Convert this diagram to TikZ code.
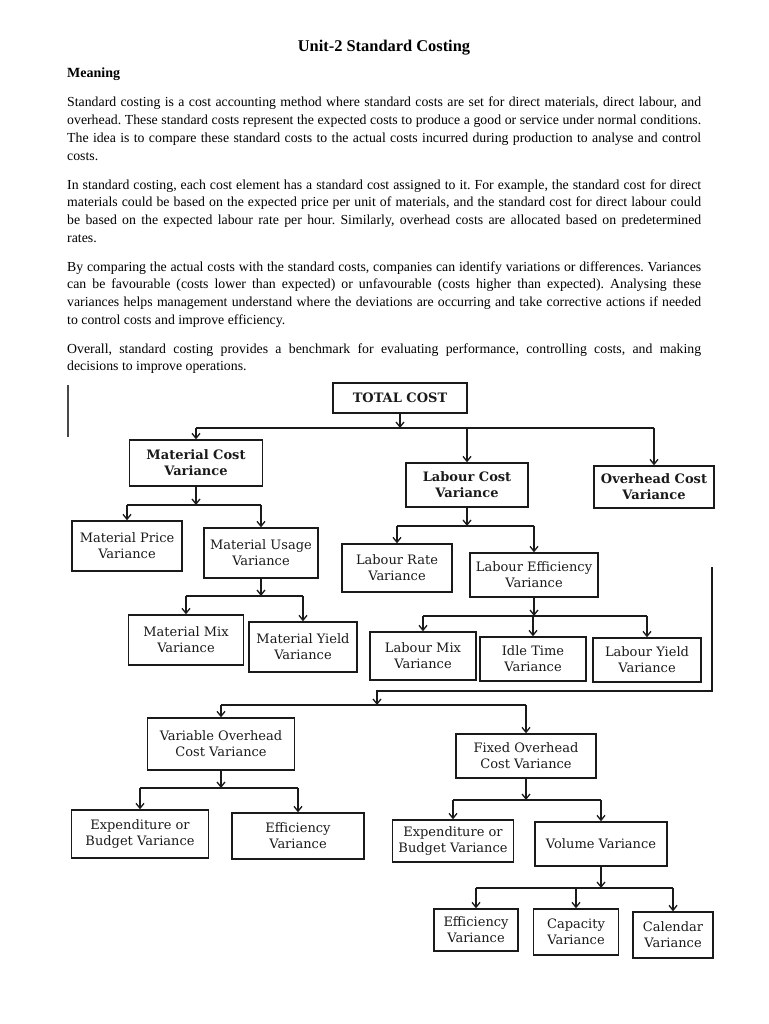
\documentclass[tikz,border=0pt]{standalone}
\usepackage{fontspec}
\setmainfont{Liberation Serif}
\newfontfamily\chartfont{DejaVu Serif}
\usepackage{tikz}
\usetikzlibrary{positioning,arrows.meta}
\definecolor{ink}{HTML}{1A1A1A}
\tikzset{
  >={Straight Barb[length=5pt,width=8pt]},
  % --- nodes
  vbox/.style  = {draw=ink, line width=1.3pt, align=center, inner sep=2pt, text=ink,
                  font=\chartfont\fontsize{13}{16}\selectfont},
  vhead/.style = {vbox, font=\chartfont\bfseries\fontsize{13}{16}\selectfont},
  wh/.style 2 args = {minimum width=#1pt, minimum height=#2pt},
  % --- edges
  link/.style  = {draw=ink, line width=1.3pt},
  drop/.style  = {link, ->},
}

\begin{document}
\begin{tikzpicture}[x=1pt,y=-1pt]
  \useasboundingbox (0,0) rectangle (768,1024);
  % page text
  \node[anchor=base, inner sep=0pt, font=\bfseries\fontsize{16.4}{19}\selectfont] (title) at (384,52)
    {Unit-2 Standard Costing};
  \node[anchor=base west, inner sep=0pt, font=\bfseries\fontsize{14}{16}\selectfont] (meaning) at (67,78)
    {Meaning};
  \node[anchor=north west, inner sep=0pt, text width=634pt, align=justify,
        font=\fontsize{13.8}{17.7}\selectfont] (body) at (67,97) {%
    \setlength{\parskip}{11.3pt}\frenchspacing
    Standard costing is a cost accounting method where standard costs are set for direct materials, direct labour, and\linebreak
    overhead. These standard costs represent the expected costs to produce a good or service under normal conditions.\linebreak
    The idea is to compare these standard costs to the actual costs incurred during production to analyse and control\linebreak
    costs.\par
    In standard costing, each cost element has a standard cost assigned to it. For example, the standard cost for direct\linebreak
    materials could be based on the expected price per unit of materials, and the standard cost for direct labour could\linebreak
    be based on the expected labour rate per hour. Similarly, overhead costs are allocated based on predetermined\linebreak
    rates.\par
    By comparing the actual costs with the standard costs, companies can identify variations or differences. Variances\linebreak
    can be favourable (costs lower than expected) or unfavourable (costs higher than expected). Analysing these\linebreak
    variances helps management understand where the deviations are occurring and take corrective actions if needed\linebreak
    to control costs and improve efficiency.\par
    Overall, standard costing provides a benchmark for evaluating performance, controlling costs, and making\linebreak
    decisions to improve operations.};

  % chart
  \draw[draw=ink!80, line width=1.6pt] (68,385) -- (68,437);
  \node[vhead, wh={134}{30}] (total) at (400,398) {TOTAL COST};
  \node[vhead, wh={133}{46}] (mcv) at (196,463) {Material Cost\\Variance};
  \node[vhead, wh={122}{44}] (lcv) at (467,485) {Labour Cost\\Variance};
  \node[vhead, wh={120}{42}] (ocv) at (654,487) {Overhead Cost\\Variance};

  \node[vbox, wh={110}{50}] (mpv) at (127,546) {Material Price\\Variance};
  \node[vbox, wh={114}{50}] (muv) at (261,553) {Material Usage\\Variance};
  \node[vbox, wh={110}{48}] (lrv) at (397,568) {Labour Rate\\Variance};
  \node[vbox, wh={128}{44}] (lev) at (534,575) {Labour Efficiency\\Variance};

  \node[vbox, wh={115}{50}] (mmv) at (186,640) {Material Mix\\Variance};
  \node[vbox, wh={108}{50}] (myv) at (303,647) {Material Yield\\Variance};
  \node[vbox, wh={106}{48}] (lmv) at (423,656) {Labour Mix\\Variance};
  \node[vbox, wh={106}{44}] (itv) at (533,659) {Idle Time\\Variance};
  \node[vbox, wh={108}{44}] (lyv) at (647,660) {Labour Yield\\Variance};

  \node[vbox, wh={147}{52}] (vov) at (221,744) {Variable Overhead\\Cost Variance};
  \node[vbox, wh={140}{44}] (fov) at (526,756) {Fixed Overhead\\Cost Variance};

  \node[vbox, wh={137}{48}] (ebl) at (140,834) {Expenditure or\\Budget Variance};
  \node[vbox, wh={132}{46}] (efl) at (298,836) {Efficiency\\Variance};
  \node[vbox, wh={121}{42}] (ebr) at (453,841) {Expenditure or\\Budget Variance};
  \node[vbox, wh={132}{44}] (vol) at (601,844) {Volume Variance};

  \node[vbox, wh={84}{42}] (efr) at (476,930) {Efficiency\\Variance};
  \node[vbox, wh={85}{46}] (cap) at (576,932) {Capacity\\Variance};
  \node[vbox, wh={80}{46}] (cal) at (673,935) {Calendar\\Variance};

  % brackets: parent / bar level / leftmost / rightmost / children
  \foreach \p/\b/\l/\r/\kids in {
    total/428/mcv/ocv/{mcv,lcv,ocv},
    mcv/505/mpv/muv/{mpv,muv},
    lcv/526/lrv/lev/{lrv,lev},
    muv/596/mmv/myv/{mmv,myv},
    lev/616/lmv/lyv/{lmv,itv,lyv},
    vov/788/ebl/efl/{ebl,efl},
    fov/800/ebr/vol/{ebr,vol},
    vol/888/efr/cal/{efr,cap,cal}}
  {
    \draw[drop] (\p.south) -- (\p.south |- 0,\b);
    \draw[link] (\l.north |- 0,\b) -- (\r.north |- 0,\b);
    \foreach \k in \kids
      \draw[drop] (\k.north |- 0,\b) -- (\k.north);
  }

  % overhead branch, running down the right edge
  \coordinate (ocvdown) at (712,567);
  \coordinate (ohd) at (377,705);
  \draw[drop] (ocvdown) -- (712,691) -| (ohd);
  \draw[link] (vov.north |- ohd) -- (fov.north |- ohd);
  \foreach \k in {vov,fov}
    \draw[drop] (\k.north |- ohd) -- (\k.north);
\end{tikzpicture}
\end{document}
